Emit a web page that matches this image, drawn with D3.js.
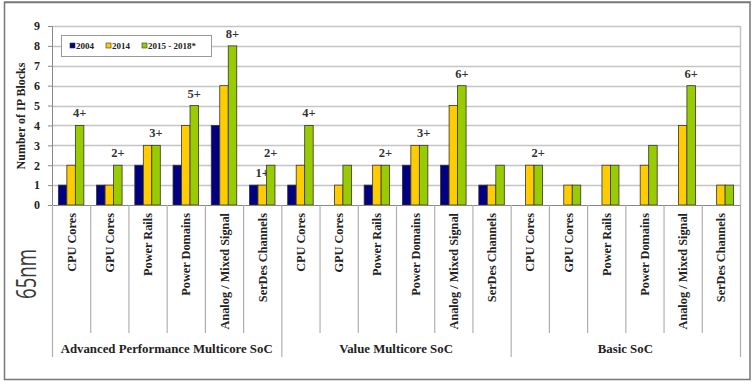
<!DOCTYPE html>
<html>
<head>
<meta charset="utf-8">
<script src="https://cdn.jsdelivr.net/npm/d3@7"></script>
<style>
  body { margin: 0; background: #fff; }
  svg { display: block; }
</style>
</head>
<body>
<svg width="752" height="388"></svg>
<script>
// data
var groups = ["Advanced Performance Multicore SoC", "Value Multicore SoC", "Basic SoC"];
var blocks = ["CPU Cores", "GPU Cores", "Power Rails", "Power Domains", "Analog / Mixed Signal", "SerDes Channels"];
var seriesNames = ["2004", "2014", "2015 - 2018*"];
var colors = ["#000080", "#ffcc00", "#99cc00"];

var y2004 = [1, 1, 2, 2, 4, 1,   1, 0, 1, 2, 2, 1,   0, 0, 0, 0, 0, 0];
var y2014 = [2, 1, 3, 4, 6, 1,   2, 1, 2, 3, 5, 1,   2, 1, 2, 2, 4, 1];
var y2018 = [4, 2, 3, 5, 8, 2,   4, 2, 2, 3, 6, 2,   2, 1, 2, 3, 6, 1];

// labels above bars: [category index, series index, text]
var notes = [
  [0, 2, "4+"], [1, 2, "2+"], [2, 2, "3+"], [3, 2, "5+"], [4, 2, "8+"], [5, 1, "1+"], [5, 2, "2+"],
  [6, 2, "4+"], [8, 2, "2+"], [9, 2, "3+"], [10, 2, "6+"],
  [12, 2, "2+"], [16, 2, "6+"]
];
var yTicks = [0, 1, 2, 3, 4, 5, 6, 7, 8, 9];

var values = [y2004, y2014, y2018];

var SERIF = "'Liberation Serif', 'Times New Roman', Times, 'DejaVu Serif', serif";

var svg = d3.select("svg");
var plotLeft = 52, plotRight = 740, plotTop = 26, plotBottom = 205;

function serif(sel, size) {
  return sel.style("font-family", SERIF)
    .style("font-weight", "bold")
    .style("font-size", size + "px")
    .style("fill", "#222");
}

// frame
svg.append("rect")
  .attr("x", 4.5).attr("y", 2.5).attr("width", 745.5).attr("height", 377)
  .attr("fill", "#fff").attr("stroke", "#777").attr("stroke-width", 1.5);
svg.append("line").attr("x1", 4).attr("x2", 751).attr("y1", 1.5).attr("y2", 1.5)
  .attr("stroke", "#999").attr("stroke-width", 1);

var cats = d3.range(groups.length * blocks.length);

var x0 = d3.scaleBand().domain(cats).range([plotLeft, plotRight]);
var x1 = d3.scaleBand().domain([0, 1, 2]).range([0, x0.bandwidth()]).paddingOuter(0.75);
var y = d3.scaleLinear().domain([0, 9]).range([plotBottom, plotTop]);

// grid
svg.append("g").selectAll("line")
  .data(yTicks.slice(1))
  .join("line")
  .attr("x1", plotLeft).attr("x2", plotRight)
  .attr("y1", function(d) { return Math.round(y(d)) + 0.5; })
  .attr("y2", function(d) { return Math.round(y(d)) + 0.5; })
  .attr("stroke", "#c4c4c4").attr("stroke-width", 1.5);

svg.append("line")
  .attr("x1", plotRight + 0.5).attr("x2", plotRight + 0.5).attr("y1", plotTop).attr("y2", plotBottom)
  .attr("stroke", "#c4c4c4").attr("stroke-width", 1.5);

// y axis
var yAxis = svg.append("g")
  .attr("transform", "translate(" + plotLeft + ",0)")
  .call(d3.axisLeft(y).tickValues(yTicks).tickSize(4).tickPadding(8));
yAxis.select(".domain").attr("stroke", "#888");
yAxis.selectAll(".tick line").attr("stroke", "#888");
serif(yAxis.selectAll("text"), 12);

serif(svg.append("text"), 12)
  .attr("text-anchor", "middle")
  .attr("transform", "translate(25," + 116 + ")rotate(-90)")
  .text("Number of IP Blocks");

// annotations drawn first so bars may cover them
serif(svg.append("g").selectAll("text")
  .data(notes)
  .join("text"), 12.5)
  .style("fill", "#333")
  .attr("text-anchor", "middle")
  .attr("x", function(d) { return x0(d[0]) + x1(d[1]) + x1.bandwidth() / 2; })
  .attr("y", function(d) { return y(values[d[1]][d[0]]) - 8; })
  .text(function(d) { return d[2]; });

// bars
var barData = [];
cats.forEach(function(c) {
  values.forEach(function(v, s) {
    if (v[c] > 0) barData.push({c: c, s: s, v: v[c]});
  });
});

svg.append("g").selectAll("rect")
  .data(barData)
  .join("rect")
  .attr("x", function(d) { return x0(d.c) + x1(d.s); })
  .attr("y", function(d) { return y(d.v); })
  .attr("width", x1.bandwidth())
  .attr("height", function(d) { return y(0) - y(d.v); })
  .attr("fill", function(d) { return colors[d.s]; })
  .attr("stroke", "#333").attr("stroke-width", 0.8);

// x axis base
svg.append("line")
  .attr("x1", plotLeft).attr("x2", plotRight).attr("y1", plotBottom + 0.5).attr("y2", plotBottom + 0.5)
  .attr("stroke", "#888").attr("stroke-width", 1.2);

// separators
var seps = d3.range(cats.length + 1);
svg.append("g").selectAll("line")
  .data(seps)
  .join("line")
  .attr("x1", function(d) { return (d < cats.length ? x0(d) : plotRight) + 0.5; })
  .attr("x2", function(d) { return (d < cats.length ? x0(d) : plotRight) + 0.5; })
  .attr("y1", plotBottom)
  .attr("y2", function(d) { return d % blocks.length === 0 ? 357 : 333; })
  .attr("stroke", "#b0b0b0").attr("stroke-width", 1.2);

// category labels
serif(svg.append("g").selectAll("text")
  .data(cats)
  .join("text"), 12.3)
  .attr("text-anchor", "end")
  .attr("transform", function(d) {
    return "translate(" + (x0(d) + x0.bandwidth() / 2 + 4.5) + "," + 213 + ")rotate(-90)";
  })
  .text(function(d) { return blocks[d % blocks.length]; });

// group labels
serif(svg.append("g").selectAll("text")
  .data(groups)
  .join("text"), 12.8)
  .attr("text-anchor", "middle")
  .attr("x", function(d, i) {
    return (x0(i * blocks.length) + x0((i + 1) * blocks.length - 1) + x0.bandwidth()) / 2;
  })
  .attr("y", 353)
  .text(function(d) { return d; });

// legend
var lg = svg.append("g").attr("transform", "translate(61,35)");
lg.append("rect")
  .attr("x", 0.5).attr("y", 0.5).attr("width", 150).attr("height", 21)
  .attr("fill", "#fff").attr("stroke", "#999").attr("stroke-width", 1);
var lx = [9, 45, 81];
seriesNames.forEach(function(name, i) {
  lg.append("rect")
    .attr("x", lx[i]).attr("y", 8).attr("width", 5).attr("height", 5)
    .attr("fill", colors[i]).attr("stroke", "#333").attr("stroke-width", 0.6);
  serif(lg.append("text"), 9)
    .attr("x", lx[i] + 6).attr("y", 14)
    .text(name);
});

// node label
svg.append("text")
  .attr("text-anchor", "middle")
  .attr("transform", "translate(36,274)rotate(-90)")
  .attr("textLength", 50)
  .attr("lengthAdjust", "spacingAndGlyphs")
  .style("font-family", "'Open Sans', sans-serif")
  .style("font-size", "27px")
  .style("fill", "#3a3a3a")
  .text("65nm");
</script>
</body>
</html>
